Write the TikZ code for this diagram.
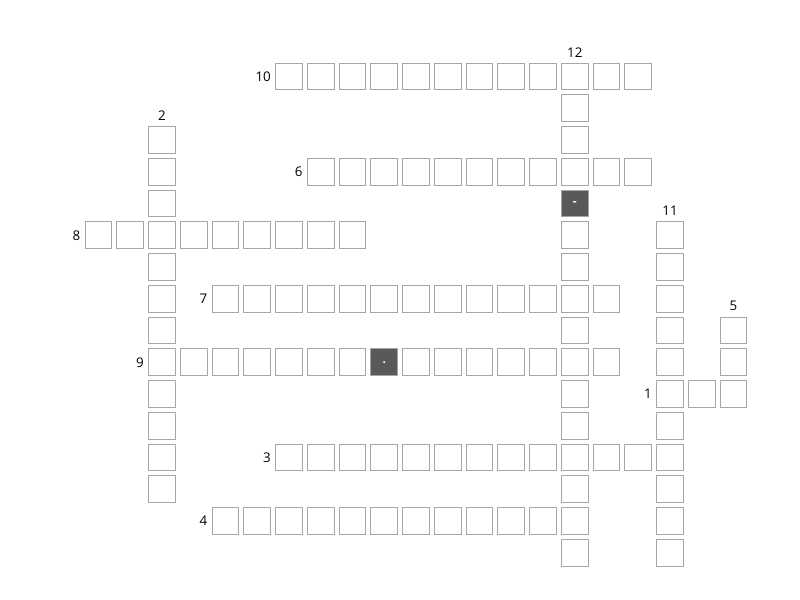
\documentclass[tikz,border=0pt]{standalone}
\usepackage{fontspec}
\setmainfont{Open Sans}
\begin{document}
\begin{tikzpicture}[x=0.75pt,y=-0.75pt,
  cellbox/.style={draw=gray!70,line width=0.8pt,fill=white,minimum size=20pt,inner sep=0pt},
  darkbox/.style={draw=gray!70,line width=0.8pt,fill=black!65,minimum size=20pt,inner sep=0pt,text=white,font=\bfseries\small},
  numlabel/.style={font=\fontsize{10}{12}\selectfont,inner sep=0pt}]
\useasboundingbox[fill=white] (0,0) rectangle (800,600);
\newcommand{\cw}[2]{\node[cellbox] (c-#1-#2) at ({98.5+31.75*#1},{76.5+31.75*#2}) {};}
% across
\foreach \c in {6,...,17} {\cw{\c}{0}}
\foreach \c in {7,...,17} {\cw{\c}{3}}
\foreach \c in {0,...,8} {\cw{\c}{5}}
\foreach \c in {4,...,16} {\cw{\c}{7}}
\foreach \c in {2,...,16} {\cw{\c}{9}}
\foreach \c in {18,...,20} {\cw{\c}{10}}
\foreach \c in {6,...,18} {\cw{\c}{12}}
\foreach \c in {4,...,15} {\cw{\c}{14}}
% down
\foreach \r in {0,...,15} {\cw{15}{\r}}
\foreach \r in {2,...,13} {\cw{2}{\r}}
\foreach \r in {5,...,15} {\cw{18}{\r}}
\foreach \r in {8,...,10} {\cw{20}{\r}}
% dark cells
\node[darkbox] (d-15-4) at ({98.5+31.75*15},{76.5+31.75*4}) {-};
\node[darkbox] (d-9-9) at ({98.5+31.75*9},{76.5+31.75*9}) {.};
% labels
\node[numlabel,anchor=east] (l10) at ([xshift=-3pt]c-6-0.west) {10};
\node[numlabel,anchor=east] (l6) at ([xshift=-3pt]c-7-3.west) {6};
\node[numlabel,anchor=east] (l8) at ([xshift=-3pt]c-0-5.west) {8};
\node[numlabel,anchor=east] (l7) at ([xshift=-3pt]c-4-7.west) {7};
\node[numlabel,anchor=east] (l9) at ([xshift=-3pt]c-2-9.west) {9};
\node[numlabel,anchor=east] (l1) at ([xshift=-3pt]c-18-10.west) {1};
\node[numlabel,anchor=east] (l3) at ([xshift=-3pt]c-6-12.west) {3};
\node[numlabel,anchor=east] (l4) at ([xshift=-3pt]c-4-14.west) {4};
\node[numlabel,anchor=south] (l12) at ([yshift=4pt]c-15-0.north) {12};
\node[numlabel,anchor=south] (l2) at ([yshift=4pt]c-2-2.north) {2};
\node[numlabel,anchor=south] (l11) at ([yshift=4pt]c-18-5.north) {11};
\node[numlabel,anchor=south] (l5) at ([yshift=4pt]c-20-8.north) {5};
\end{tikzpicture}
\end{document}
